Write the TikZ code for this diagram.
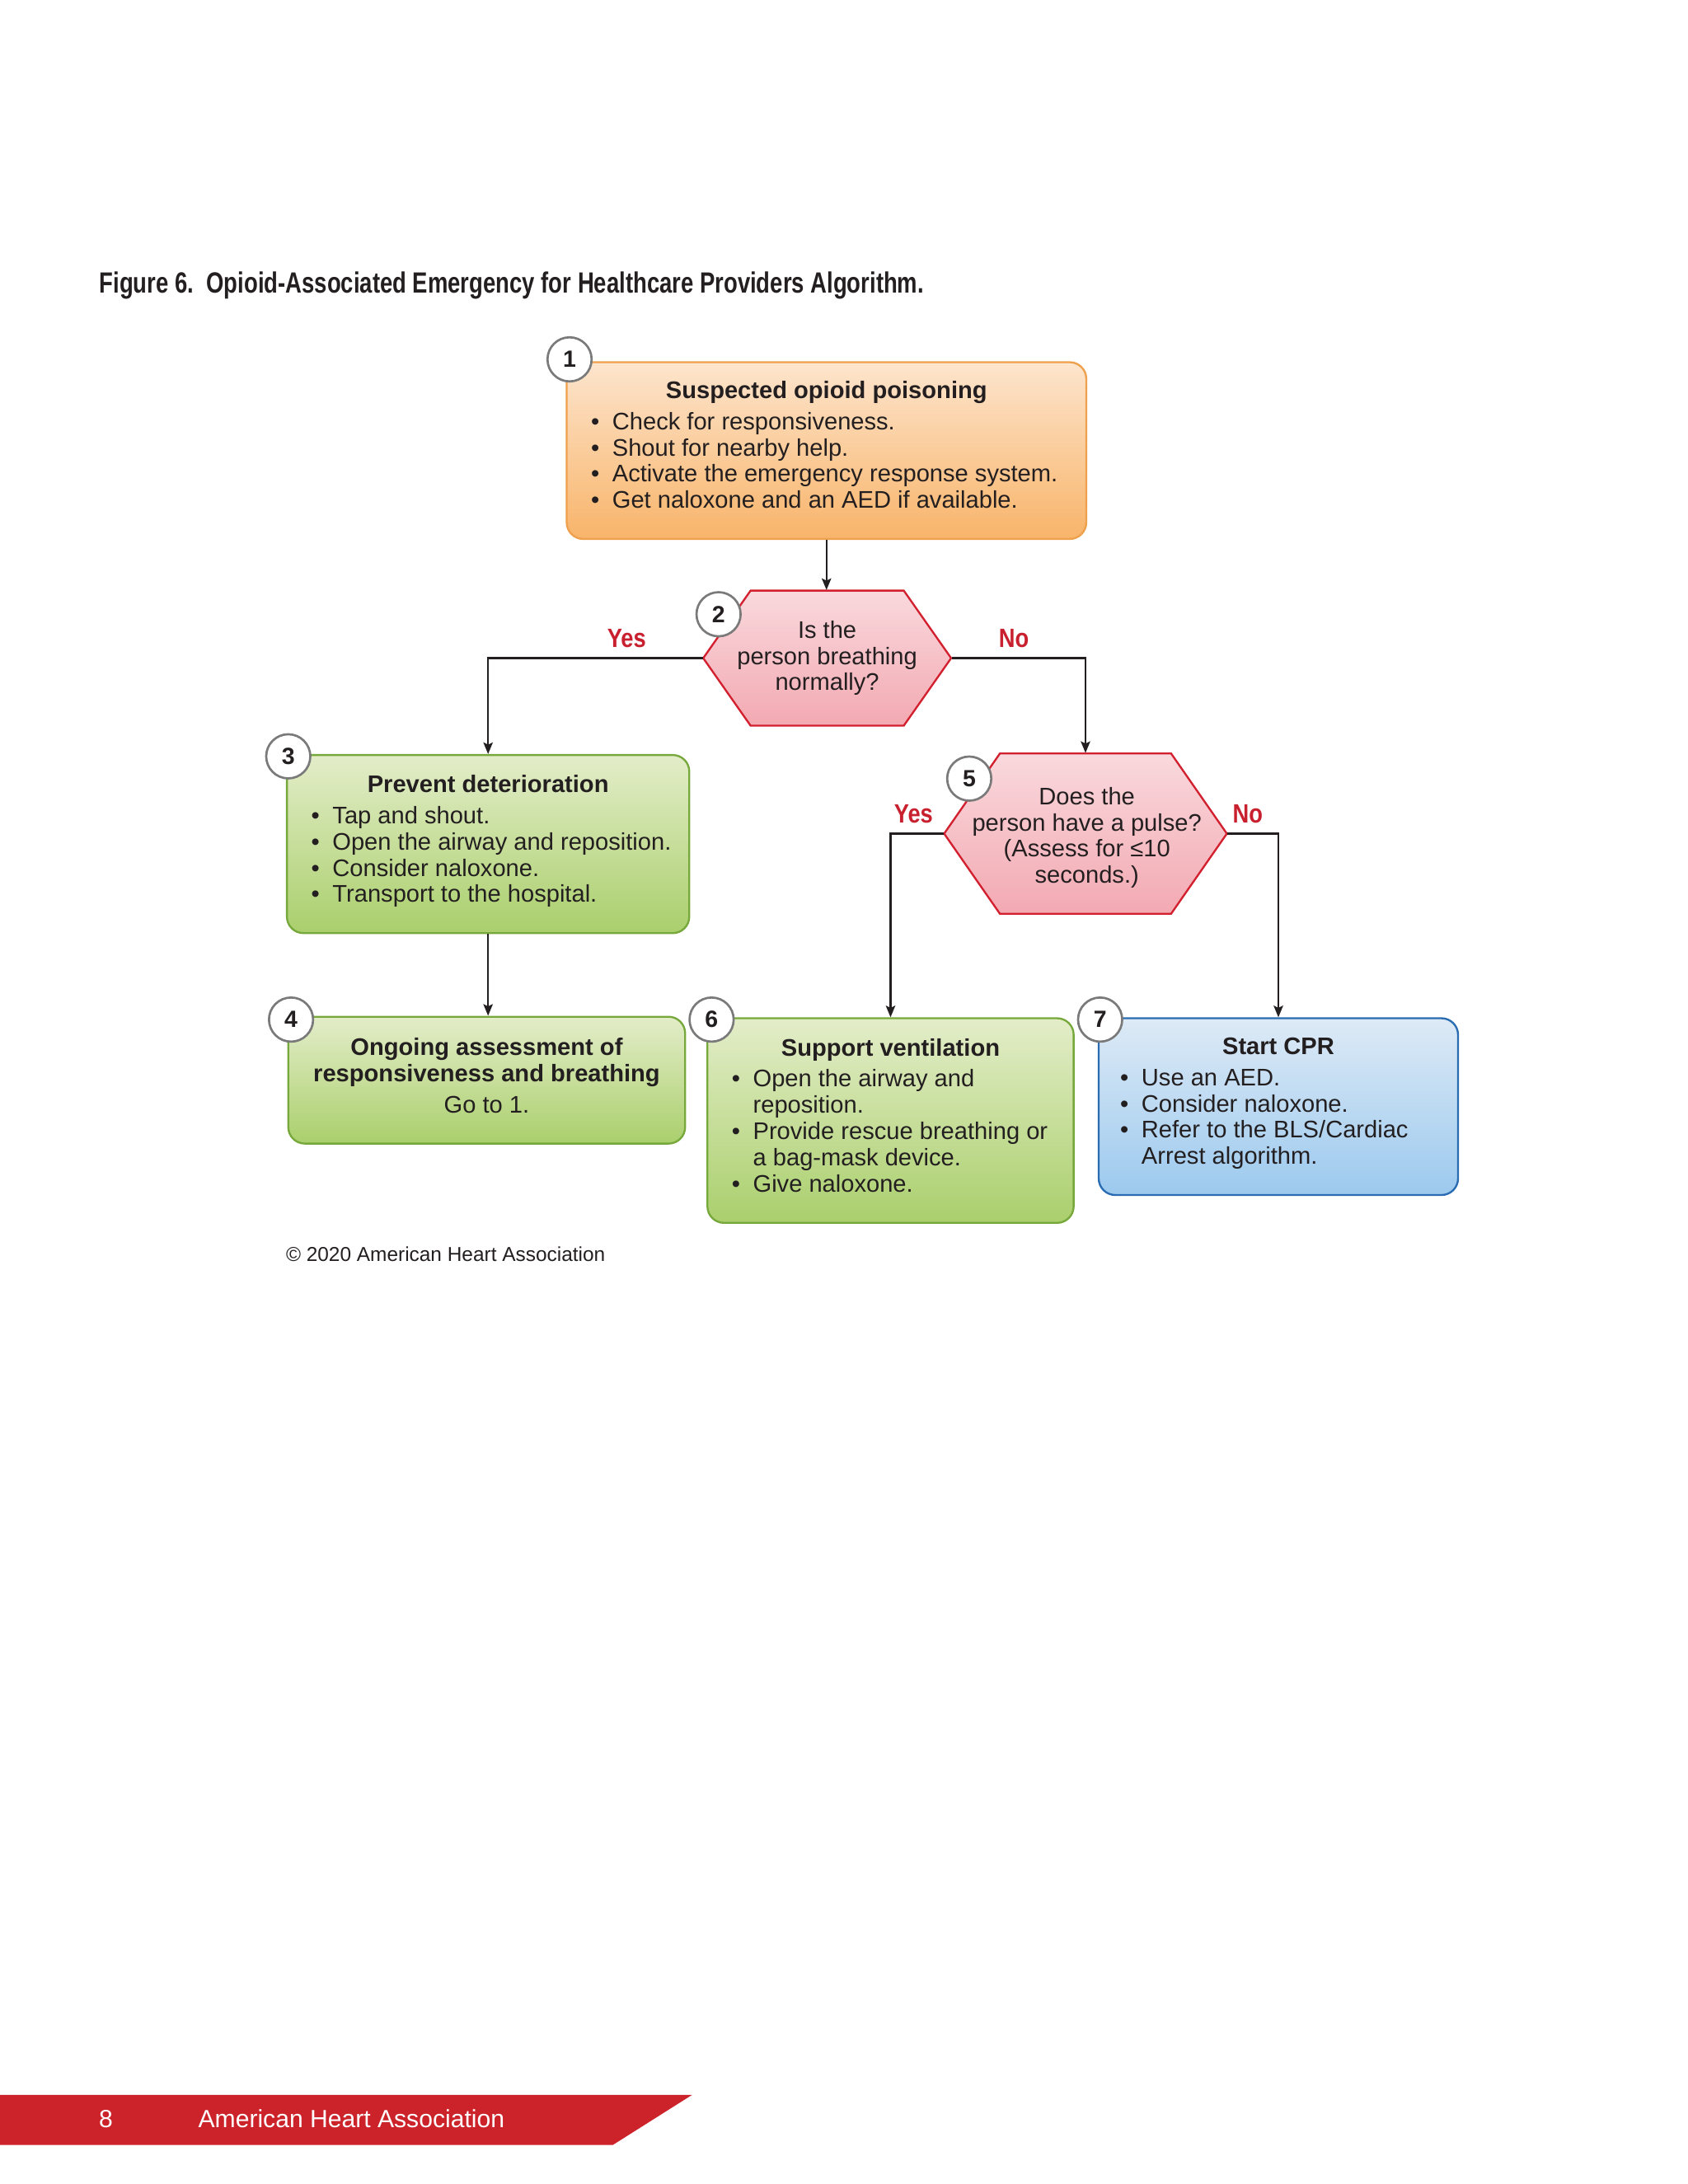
\documentclass[tikz,border=0pt]{standalone}
\usepackage{fontspec}
\setmainfont{Liberation Sans}
\newfontfamily\condfont[FakeStretch=0.775]{Liberation Sans}
\newfontfamily\ansfont[FakeStretch=0.85]{Liberation Sans}
\usetikzlibrary{arrows.meta,calc,positioning}

\definecolor{inkblack}{HTML}{231F20}
\definecolor{orangetop}{HTML}{FDE5CD}
\definecolor{orangebot}{HTML}{F8B46A}
\definecolor{orangeline}{HTML}{EFA04C}
\definecolor{pinktop}{HTML}{F9D9DD}
\definecolor{pinkbot}{HTML}{F3A9B2}
\definecolor{pinkline}{HTML}{D2202F}
\definecolor{greentop}{HTML}{E3EDC9}
\definecolor{greenbot}{HTML}{AACF6C}
\definecolor{greenline}{HTML}{76A83B}
\definecolor{bluetop}{HTML}{DDEAF6}
\definecolor{bluebot}{HTML}{9CC9EE}
\definecolor{blueline}{HTML}{2A6CB2}
\definecolor{badgegray}{HTML}{7A7A7A}
\definecolor{ansred}{HTML}{C8202E}
\definecolor{footred}{HTML}{CC2229}

\newcommand{\bodysize}{\fontsize{8.7}{9.5}\selectfont}
\newcommand{\itm}{\makebox[7.7pt][l]{\textbullet}}
\newcommand{\cnt}{\hspace*{7.7pt}}
\newcommand{\lead}{\rule{0pt}{7pt}}

\tikzset{
  box/.style={rounded corners=6pt, line width=0.7pt, inner sep=0pt},
  orangebox/.style={box, draw=orangeline, top color=orangetop, bottom color=orangebot},
  greenbox/.style={box, draw=greenline, top color=greentop, bottom color=greenbot},
  bluebox/.style={box, draw=blueline, top color=bluetop, bottom color=bluebot},
  pinkhex/.style={draw=pinkline, line width=0.7pt, line join=miter, top color=pinktop, bottom color=pinkbot},
  question/.style={inner sep=0pt, align=center, text=inkblack, font=\bodysize},
  badge/.style={circle, draw=badgegray, line width=0.8pt, fill=white, minimum size=16pt, inner sep=0pt, text=inkblack, font=\bfseries\fontsize{8.5}{9}\selectfont},
  boxhead/.style={anchor=base, inner sep=0pt, text=inkblack, font=\bfseries\bodysize},
  boxlist/.style={anchor=north west, align=left, inner sep=0pt, text=inkblack, font=\bodysize},
  flow/.style={draw=inkblack, line width=0.7pt, -{Stealth[length=4.2pt,width=3.4pt,inset=0.8pt]}},
  answer/.style={anchor=base, inner sep=0pt, text=ansred, font=\ansfont\bfseries\fontsize{9.6}{10}\selectfont},
}

\begin{document}
\begin{tikzpicture}[x=0.50495pt, y=-0.5051pt]
\useasboundingbox (0,0) rectangle (1212,1568);

% title
\node[anchor=base west, inner sep=0pt, text=inkblack, font=\condfont\bfseries\fontsize{10.6}{12}\selectfont] (fig) at (71,210.5)
  {Figure 6.\ \ Opioid-Associated Emergency for Healthcare Providers Algorithm.};

% boxes
\node[orangebox, minimum width=188.4pt, minimum height=64.1pt] (b1) at (593.5,323.5) {};
\node[greenbox, minimum width=145.9pt, minimum height=64.6pt] (b3) at (350.5,606) {};
\node[greenbox, minimum width=143.9pt, minimum height=46pt] (b4) at (349.5,775.5) {};
\node[greenbox, minimum width=132.8pt, minimum height=74.2pt] (b6) at (639.5,804.5) {};
\node[bluebox, minimum width=130.3pt, minimum height=64.1pt] (b7) at (918,794.5) {};

% decision hexagons
\coordinate (h2) at (594,472.5);
\coordinate (h5) at (779.5,598.5);
\draw[pinkhex] ($(h2)+(-89,0)$) -- ++(34,-48.5) -- ++(110,0) -- ++(34,48.5) -- ++(-34,48.5) -- ++(-110,0) -- cycle;
\draw[pinkhex] ($(h5)+(-101.5,0)$) -- ++(40,-57.5) -- ++(123,0) -- ++(40,57.5) -- ++(-40,57.5) -- ++(-123,0) -- cycle;
\node[question, minimum width=89.9pt, minimum height=49pt] (q2) at (h2)
  {Is the\\person breathing\\normally?};
\node[question, minimum width=102.5pt, minimum height=58.1pt] (q5) at (h5) {};
\node[question] (q5t) at ($(h5)+(1,3)$)
  {Does the\\person have a pulse?\\(Assess for ≤10\\seconds.)};

% box texts
\node[boxhead] (b1h) at ($(b1.north)+(0,26.7)$) {Suspected opioid poisoning};
\node[boxlist] (b1l) at ($(b1.north west)+(17.8,34.8)$)
  {\lead\itm Check for responsiveness.\\
   \itm Shout for nearby help.\\
   \itm Activate the emergency response system.\\
   \itm Get naloxone and an AED if available.};

\node[boxhead] (b3h) at ($(b3.north)+(0,27.7)$) {Prevent deterioration};
\node[boxlist] (b3l) at ($(b3.north west)+(17.8,35.8)$)
  {\lead\itm Tap and shout.\\
   \itm Open the airway and reposition.\\
   \itm Consider naloxone.\\
   \itm Transport to the hospital.};

\node[anchor=north, align=center, inner sep=0pt, text=inkblack, font=\bodysize] (b4t) at ($(b4.north)+(0,14)$)
  {\lead\textbf{Ongoing assessment of}\\
   \textbf{responsiveness and breathing}\\[1.9pt]
   Go to 1.};

\node[boxhead] (b6h) at ($(b6.north)+(0,27.7)$) {Support ventilation};
\node[boxlist] (b6l) at ($(b6.north west)+(17.8,35.8)$)
  {\lead\itm Open the airway and\\
   \cnt reposition.\\
   \itm Provide rescue breathing or\\
   \cnt a bag-mask device.\\
   \itm Give naloxone.};

\node[boxhead] (b7h) at ($(b7.north)+(0,26.7)$) {Start CPR};
\node[boxlist] (b7l) at ($(b7.north west)+(15.8,34.8)$)
  {\lead\itm Use an AED.\\
   \itm Consider naloxone.\\
   \itm Refer to the BLS/Cardiac\\
   \cnt Arrest algorithm.};

% connectors
\draw[flow] (b1.south) -- (b1.south |- q2.north);
\draw[flow] (q2.west) -| (b3.north);
\draw[flow] (q2.east) -| (q5.north);
\draw[flow] (b3.south) -- (b3.south |- b4.north);
\draw[flow] (q5.west) -| (b6.north);
\draw[flow] (q5.east) -| (b7.north);

% answers
\node[answer] (yes2) at (450,465) {Yes};
\node[answer] (no2) at (728,465) {No};
\node[answer] (yes5) at (656,591) {Yes};
\node[answer] (no5) at (896,591) {No};

% step numbers
\node[badge] (n1) at (409,258) {1};
\node[badge] (n2) at (516,441) {2};
\node[badge] (n3) at (207,543) {3};
\node[badge] (n4) at (209,732) {4};
\node[badge] (n5) at (696,559) {5};
\node[badge] (n6) at (511,732) {6};
\node[badge] (n7) at (790,732) {7};

\node[anchor=base west, inner sep=0pt, text=inkblack, font=\fontsize{7.3}{8}\selectfont] (copy) at (205,905.5)
  {\textcopyright\ 2020 American Heart Association};

% footer band
\fill[footred] (0,1504) -- (497,1504) -- (440,1540) -- (0,1540) -- cycle;
\node[anchor=base, inner sep=0pt, text=white, font=\fontsize{9}{10}\selectfont] (pg) at (76,1527.5) {8};
\node[anchor=base west, inner sep=0pt, text=white, font=\fontsize{9}{10}\selectfont] (org) at (142,1527.5) {American Heart Association};
\end{tikzpicture}
\end{document}
